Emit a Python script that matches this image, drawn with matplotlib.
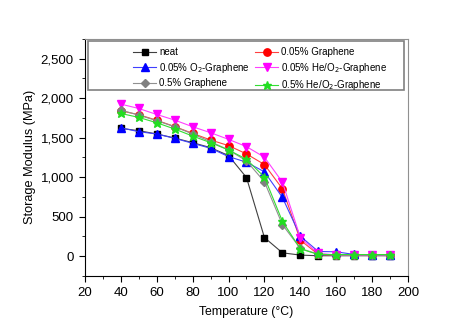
import matplotlib
matplotlib.use('Agg')
import matplotlib.pyplot as plt
from matplotlib.ticker import MultipleLocator, FuncFormatter
from matplotlib.patches import Rectangle

plt.rcParams['font.family'] = ['Liberation Sans', 'DejaVu Sans']

# 温度 (°C)
temp = [40, 50, 60, 70, 80, 90, 100, 110, 120, 130, 140, 150, 160, 170, 180, 190]

# 貯蔵弾性率 (MPa)
neat = [1617, 1588, 1546, 1495, 1436, 1373, 1273, 995, 235, 42, 13, 5, 5, 5, 5, 5]
o2_005 = [1625, 1575, 1546, 1491, 1428, 1365, 1260, 1189, 1067, 743, 252, 59, 55, 21, 18, 17]
gr_005 = [1840, 1790, 1720, 1640, 1554, 1470, 1399, 1294, 1159, 853, 202, 21, 15, 15, 15, 15]
heo2_005 = [1924, 1869, 1793, 1722, 1638, 1562, 1478, 1386, 1252, 937, 235, 34, 15, 15, 15, 15]
gr_05 = [1848, 1785, 1714, 1638, 1546, 1449, 1344, 1205, 941, 399, 97, 25, 15, 15, 15, 15]
heo2_05 = [1806, 1756, 1688, 1609, 1520, 1436, 1344, 1226, 1000, 441, 92, 21, 20, 20, 20, 20]

fig = plt.figure(figsize=(4.74, 3.32), dpi=100)
ax = fig.add_axes([0.179, 0.169, 0.682, 0.714])

lw = 0.8
ms = 4.8
h_neat, = ax.plot(temp, neat, color='#404040', lw=lw, marker='s', ms=ms, mfc='black', mec='black', label='neat')
h_gr005, = ax.plot(temp, gr_005, color='#ff4040', lw=lw, marker='o', ms=ms + 0.5, mfc='red', mec='red', label='0.05% Graphene')
h_o2, = ax.plot(temp, o2_005, color='#4040ff', lw=lw, marker='^', ms=ms + 0.5, mfc='blue', mec='blue', label='0.05% O$_2$-Graphene')
h_heo2005, = ax.plot(temp, heo2_005, color='#ff40ff', lw=lw, marker='v', ms=ms + 0.5, mfc='#ff00ff', mec='#ff00ff', label='0.05% He/O$_2$-Graphene')
h_gr05, = ax.plot(temp, gr_05, color='#909090', lw=lw, marker='D', ms=ms - 0.5, mfc='#808080', mec='#808080', label='0.5% Graphene')
h_heo205, = ax.plot(temp, heo2_05, color='#33dd33', lw=lw, marker='*', ms=ms + 1.5, mfc='#22dd22', mec='#22dd22', label='0.5% He/O$_2$-Graphene')

ax.set_xlim(20, 200)
ax.set_ylim(-250, 2750)
ax.xaxis.set_major_locator(MultipleLocator(20))
ax.xaxis.set_minor_locator(MultipleLocator(10))
ax.yaxis.set_major_locator(MultipleLocator(500))
ax.yaxis.set_minor_locator(MultipleLocator(250))
ax.yaxis.set_major_formatter(FuncFormatter(lambda v, p: f'{int(v):,}'))

ax.tick_params(axis='both', which='both', direction='out', labelsize=9.5, colors='black')
ax.tick_params(which='major', length=4.5)
ax.tick_params(which='minor', length=2.5)
ax.spines['left'].set_color('black')
ax.spines['bottom'].set_color('black')
ax.spines['top'].set_color('#909090')
ax.spines['right'].set_color('#909090')

ax.set_xlabel('Temperature (°C)', fontsize=8.8, labelpad=5)
ax.set_ylabel('Storage Modulus (MPa)', fontsize=9.2, labelpad=3)

# 凡例の枠
ax.add_patch(Rectangle((0.009, 0.785), 0.979, 0.207, transform=ax.transAxes,
                       fill=False, edgecolor='#808080', lw=1.2, zorder=5))

handles = [h_neat, h_o2, h_gr05, h_gr005, h_heo2005, h_heo205]
ax.legend(handles=handles, ncol=2, frameon=False, fontsize=7.0,
          loc='center', bbox_to_anchor=(0.542, 0.870), handlelength=2.4,
          handletextpad=0.3, columnspacing=0.5, labelspacing=0.35, borderpad=0.2)

plt.savefig('out.png', dpi=100)
plt.close()
